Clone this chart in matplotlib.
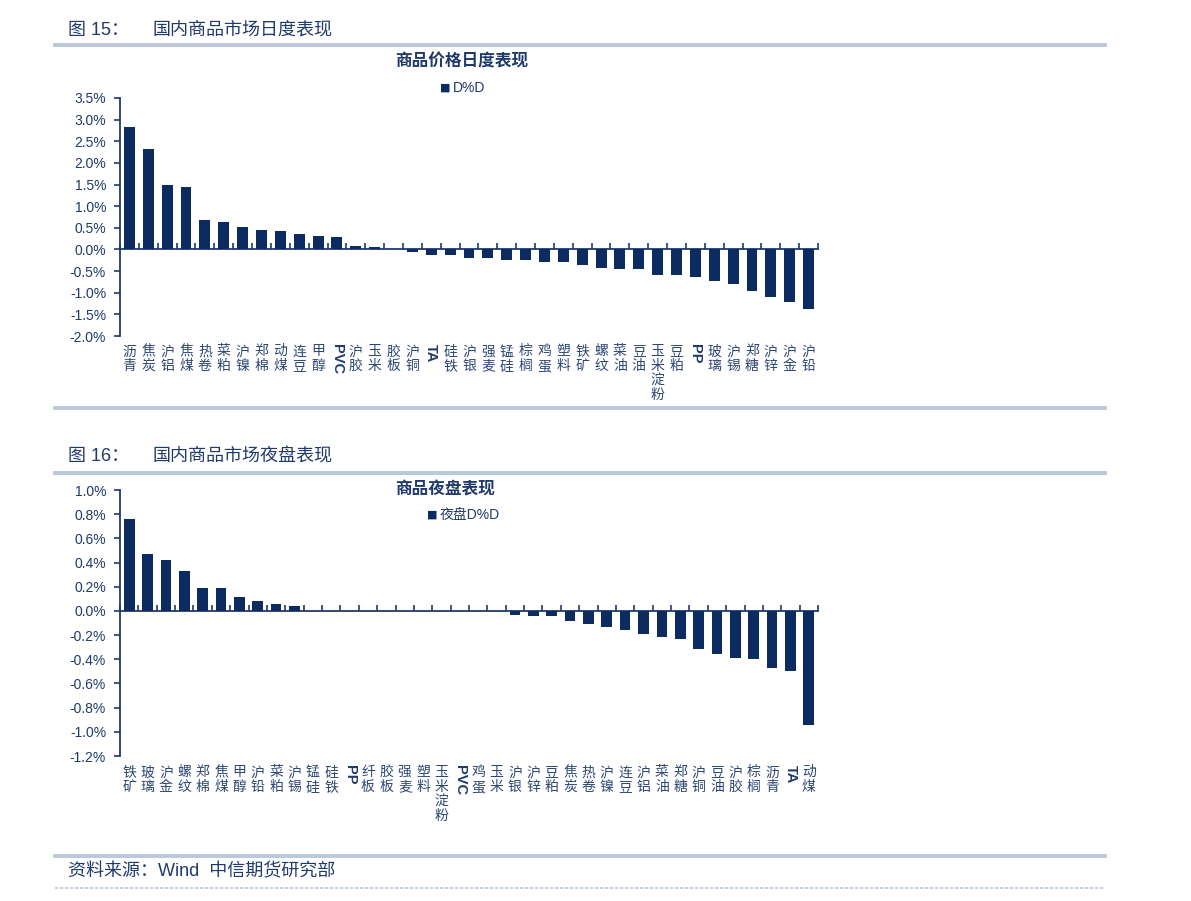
import matplotlib
matplotlib.use("Agg")
import matplotlib.pyplot as plt
from matplotlib.lines import Line2D
import matplotlib.transforms as mtransforms
import numpy as np

plt.rcParams['font.family'] = ['Liberation Sans', 'Noto Sans CJK SC', 'DejaVu Sans']

# 商品价格日度表现 (%)
day_names = ["沥青", "焦炭", "沪铝", "焦煤", "热卷", "菜粕", "沪镍", "郑棉", "动煤", "连豆",
             "甲醇", "PVC", "沪胶", "玉米", "胶板", "沪铜", "TA", "硅铁", "沪银", "强麦",
             "锰硅", "棕榈", "鸡蛋", "塑料", "铁矿", "螺纹", "菜油", "豆油", "玉米淀粉", "豆粕",
             "PP", "玻璃", "沪锡", "郑糖", "沪锌", "沪金", "沪铅"]
day_vals = [2.82, 2.33, 1.50, 1.44, 0.67, 0.63, 0.53, 0.46, 0.43, 0.36,
            0.32, 0.29, 0.085, 0.05, 0.0, -0.05, -0.12, -0.12, -0.20, -0.20,
            -0.25, -0.25, -0.29, -0.29, -0.35, -0.42, -0.46, -0.46, -0.59, -0.59,
            -0.63, -0.74, -0.80, -0.95, -1.11, -1.22, -1.38]
day_ticks = [-2.0, -1.5, -1.0, -0.5, 0.0, 0.5, 1.0, 1.5, 2.0, 2.5, 3.0, 3.5]

# 商品夜盘表现 (%)
night_names = ["铁矿", "玻璃", "沪金", "螺纹", "郑棉", "焦煤", "甲醇", "沪铅", "菜粕", "沪锡",
               "锰硅", "硅铁", "PP", "纤板", "胶板", "强麦", "塑料", "玉米淀粉", "PVC", "鸡蛋",
               "玉米", "沪银", "沪锌", "豆粕", "焦炭", "热卷", "沪镍", "连豆", "沪铝", "菜油",
               "郑糖", "沪铜", "豆油", "沪胶", "棕榈", "沥青", "TA", "动煤"]
night_vals = [0.758, 0.474, 0.425, 0.328, 0.19, 0.19, 0.116, 0.08, 0.055, 0.041,
              0.0, 0.0, 0.0, 0.0, 0.0, 0.0, 0.0, 0.0, 0.0, 0.0,
              0.0, -0.033, -0.044, -0.044, -0.083, -0.108, -0.132, -0.157, -0.193, -0.218,
              -0.232, -0.317, -0.353, -0.39, -0.40, -0.475, -0.50, -0.94]
night_ticks = [-1.2, -1.0, -0.8, -0.6, -0.4, -0.2, 0.0, 0.2, 0.4, 0.6, 0.8, 1.0]

NAVY = "#0C2B60"
TXT = "#1F3A6B"
LBL = "#2C4775"
LINE = "#B9C8DB"

W, H = 1191, 901
fig = plt.figure(figsize=(W / 100, H / 100), dpi=100)


def px(x, y):
    return x / W, 1 - y / H


def hline(y, lw=2.8, ls="-"):
    x0, yy = px(55, y)
    x1, _ = px(1105, y)
    fig.add_artist(Line2D([x0, x1], [yy, yy], transform=fig.transFigure,
                          color=LINE, lw=lw, ls=ls))


def draw(rect, names, vals, ticks, title, title_xy, leg, leg_xy):
    ax = fig.add_axes(rect)
    n = len(names)
    x = np.arange(n)
    ax.bar(x, vals, width=0.58, color=NAVY, zorder=3)
    ax.set_xlim(-0.5, n - 0.5)
    ax.set_ylim(ticks[0], ticks[-1])
    ax.set_yticks(ticks)
    ax.set_yticklabels([f"{t:.1f}%" for t in ticks], fontsize=10, color=TXT)
    ax.tick_params(axis="y", direction="out", length=4, width=1.2, color=TXT, pad=6)
    for s in ["top", "right"]:
        ax.spines[s].set_visible(False)
    ax.spines["left"].set_color(TXT)
    ax.spines["left"].set_linewidth(1.3)
    ax.spines["bottom"].set_position(("data", 0))
    ax.spines["bottom"].set_color(TXT)
    ax.spines["bottom"].set_linewidth(1.3)
    ax.set_xticks(np.arange(n + 1) - 0.5)
    ax.set_xticklabels([])
    ax.tick_params(axis="x", direction="in", length=4, width=1.2, color=TXT)
    trans = mtransforms.blended_transform_factory(ax.transData, ax.transAxes)
    for i, name in enumerate(names):
        if name.isascii():
            ax.text(i, -0.035, name, transform=trans, rotation=270, ha="center", va="top",
                    fontsize=10.5, color=TXT, fontweight="bold")
        else:
            ax.text(i, -0.035, "\n".join(name), transform=trans, ha="center", va="top",
                    fontsize=10, color=LBL, linespacing=1.05)
    fig.text(*px(*title_xy), title, ha="center", va="center", fontsize=12,
             fontweight="bold", color=TXT)
    lx, ly = px(*leg_xy)
    fig.text(lx - 3 / W, ly, "■", ha="left", va="center", fontsize=8, color=NAVY,
             family=["DejaVu Sans"])
    fig.text(lx + 10 / W, ly, leg, ha="left", va="center", fontsize=10, color=TXT)
    return ax


# 图 15
fig.text(*px(68, 30), "图 15：", ha="left", va="center", fontsize=13, color=TXT)
fig.text(*px(152, 30), "国内商品市场日度表现", ha="left", va="center", fontsize=13, color=TXT)
hline(45)
draw([120 / W, 1 - 336 / H, 698 / W, 238 / H], day_names, day_vals, day_ticks,
     "商品价格日度表现", (462, 61), "D%D", (443, 88))
hline(408)

# 图 16
fig.text(*px(68, 457), "图 16：", ha="left", va="center", fontsize=13, color=TXT)
fig.text(*px(152, 457), "国内商品市场夜盘表现", ha="left", va="center", fontsize=13, color=TXT)
hline(473)
draw([120 / W, 1 - 756 / H, 698 / W, 266 / H], night_names, night_vals, night_ticks,
     "商品夜盘表现", (445, 489), "夜盘D%D", (430, 515))
hline(856)

fig.text(*px(68, 872), "资料来源：Wind  中信期货研究部", ha="left", va="center",
         fontsize=13, color=TXT)
hline(888, lw=1.2, ls=(0, (2, 1)))

fig.savefig("out.png", dpi=100)
